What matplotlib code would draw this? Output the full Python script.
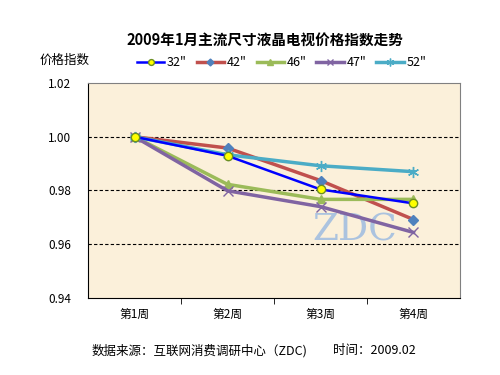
import matplotlib
matplotlib.use("Agg")
import matplotlib.pyplot as plt
import numpy as np

plt.rcParams['font.family'] = ['Noto Sans CJK SC', 'DejaVu Sans']

# 数据
weeks = ['第1周', '第2周', '第3周', '第4周']
s32 = [1.000, 0.9929, 0.9804, 0.9752]
s42 = [1.000, 0.9958, 0.9837, 0.9692]
s46 = [1.000, 0.9823, 0.9767, 0.9767]
s47 = [1.000, 0.9799, 0.9740, 0.9644]
s52 = [1.000, 0.9933, 0.9892, 0.9870]
names = ['32"', '42"', '46"', '47"', '52"']

fig = plt.figure(figsize=(5, 3.75), dpi=100)
ax = fig.add_axes([0.176, 0.2053, 0.744, 0.5734])
ax.set_facecolor('#FBF0DA')

x = np.arange(len(weeks))
ax.plot(x, s32, color='#0000FF', lw=1.8, marker='o', ms=6, mfc='#FFFF00', mec='#6B8E23', label=names[0], zorder=5)
ax.plot(x, s42, color='#C0504D', lw=2.5, marker='D', ms=5, mfc='#4F81BD', mec='#4F81BD', label=names[1], zorder=4)
ax.plot(x, s46, color='#9BBB59', lw=2.5, marker='^', ms=6, mfc='#9BBB59', mec='#9BBB59', label=names[2], zorder=4)
ax.plot(x, s47, color='#8064A2', lw=2.5, marker='x', ms=7, mec='#8064A2', mew=1, label=names[3], zorder=4)
ax.plot(x, s52, color='#4BACC6', lw=2.5, marker=(6, 2, 0), ms=8, mec='#4BACC6', mew=1, label=names[4], zorder=4)

ax.set_xlim(-0.5, 3.5)
ax.set_ylim(0.94, 1.02)
ax.set_yticks([0.94, 0.96, 0.98, 1.00, 1.02])
ax.set_yticklabels(['%.2f' % v for v in [0.94, 0.96, 0.98, 1.00, 1.02]], fontsize=8.5)
ax.set_xticks(x)
ax.set_xticklabels(weeks, fontsize=8.5)
ax.set_xticks([0.5, 1.5, 2.5], minor=True)
ax.tick_params(axis='x', which='major', length=0, pad=7)
ax.tick_params(axis='x', which='minor', length=4, direction='out')
ax.tick_params(axis='y', length=0, pad=12)
for v in [0.96, 0.98, 1.00]:
    ax.axhline(v, color='black', lw=0.8, ls=(0, (3, 2)), zorder=1)
for side in ['top', 'right']:
    ax.spines[side].set_color('#808080')
for side in ['left', 'bottom']:
    ax.spines[side].set_color('black')

ax.text(2.37, 0.9652, 'ZDC', fontsize=27, family='DejaVu Serif', color='#9DBBE0',
        alpha=0.85, ha='center', va='center', zorder=2)

fig.text(0.529, 0.893, '2009年1月主流尺寸液晶电视价格指数走势', ha='center', va='center',
         fontsize=10.5, fontweight='bold')
fig.text(0.08, 0.84, '价格指数', ha='left', va='center', fontsize=9)
ax.legend(loc='center', bbox_to_anchor=(0.52, 1.095), ncol=5, frameon=False,
          fontsize=9, handlelength=2.2, columnspacing=0.8, handletextpad=0.2,
          markerscale=0.7)
fig.text(0.184, 0.065, '数据来源：互联网消费调研中心（ZDC)', ha='left', va='center', fontsize=9)
fig.text(0.666, 0.065, '时间：2009.02', ha='left', va='center', fontsize=9)

fig.savefig('out.png', dpi=100)
